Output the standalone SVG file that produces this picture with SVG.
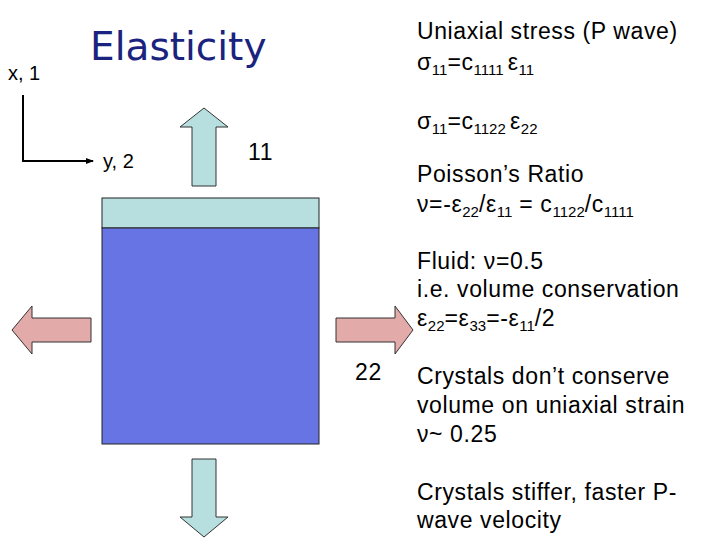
<svg xmlns="http://www.w3.org/2000/svg" width="720" height="540" viewBox="0 0 720 540">
<style>
text{font-family:"Liberation Sans",Arial,sans-serif;fill:#000;font-size:23px;letter-spacing:0.6px}
.s{font-size:15px;letter-spacing:0}
.blue{fill:#b7dfe0;stroke:#333;stroke-width:1}
.red{fill:#e3aaaa;stroke:#333;stroke-width:1}
</style>
<defs><marker id="ah" markerWidth="8" markerHeight="8" refX="7" refY="4" orient="auto" markerUnits="userSpaceOnUse"><path d="M0,1 L8,4 L0,7z" fill="#000"/></marker></defs>
<rect width="720" height="540" fill="#fff"/>
<g id="axes" fill="none" stroke="#000" stroke-width="2">
<path d="M23,95 V161 H93" marker-end="url(#ah)"/>
</g>
<text x="8" y="80" style="font-size:20px;letter-spacing:0">x, 1</text>
<text x="103" y="168" style="font-size:20px;letter-spacing:0">y, 2</text>
<text x="90" y="60" style="font-family:'DejaVu Sans',sans-serif;font-size:39px;fill:#1a237e;letter-spacing:0">Elasticity</text>
<g id="block">
<rect x="102" y="198" width="217" height="30" fill="#b7dfe0" stroke="#222"/>
<rect x="102" y="228" width="217" height="216" fill="#6675e3" stroke="#222"/>
</g>
<g id="connectors">
<path class="blue" d="M192,186 V127 H180 L204,108 L228,127 H216 V186Z"/>
<path class="blue" d="M192,459 V517 H180 L204,537 L228,517 H216 V459Z"/>
<path class="red" d="M91,318 H32 V306 L12,330 L32,354 V342 H91Z"/>
<path class="red" d="M336,318 H395 V306 L413,330 L395,354 V342 H336Z"/>
</g>
<text x="248" y="160">11</text>
<text x="355" y="380">22</text>
<text x="417" y="39">Uniaxial stress (P wave)</text>
<text x="417" y="70">σ<tspan class="s" dy="5">11</tspan><tspan dy="-5">=c</tspan><tspan class="s" dy="5">1111 </tspan><tspan dy="-5">ε</tspan><tspan class="s" dy="5">11</tspan></text>
<text x="417" y="129">σ<tspan class="s" dy="5">11</tspan><tspan dy="-5">=c</tspan><tspan class="s" dy="5">1122 </tspan><tspan dy="-5">ε</tspan><tspan class="s" dy="5">22</tspan></text>
<text x="417" y="182">Poisson’s Ratio</text>
<text x="417" y="212">ν=-ε<tspan class="s" dy="5">22</tspan><tspan dy="-5">/ε</tspan><tspan class="s" dy="5">11</tspan><tspan dy="-5"> = c</tspan><tspan class="s" dy="5">1122</tspan><tspan dy="-5">/c</tspan><tspan class="s" dy="5">1111</tspan></text>
<text x="417" y="269">Fluid: ν=0.5</text>
<text x="417" y="297">i.e. volume conservation</text>
<text x="417" y="326">ε<tspan class="s" dy="5">22</tspan><tspan dy="-5">=ε</tspan><tspan class="s" dy="5">33</tspan><tspan dy="-5">=-ε</tspan><tspan class="s" dy="5">11</tspan><tspan dy="-5">/2</tspan></text>
<text x="417" y="384">Crystals don’t conserve</text>
<text x="417" y="413">volume on uniaxial strain</text>
<text x="417" y="442">ν~ 0.25</text>
<text x="417" y="500">Crystals stiffer, faster P-</text>
<text x="417" y="528">wave velocity</text>
</svg>
